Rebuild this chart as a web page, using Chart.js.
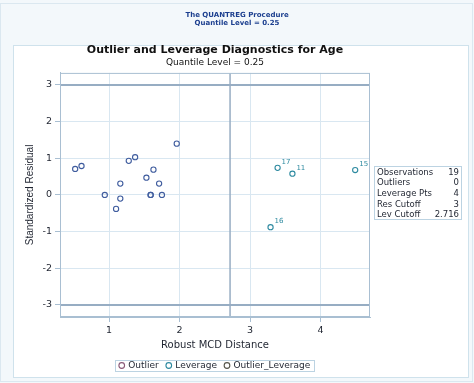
<!DOCTYPE html>
<html>
<head>
<meta charset="utf-8">
<script src="https://cdn.jsdelivr.net/npm/chart.js@4.4.1/dist/chart.umd.min.js"></script>
<style>
  html, body { margin: 0; padding: 0; background: #f3f8fb; }
  #wrap { position: relative; width: 474px; height: 383px; }
</style>
</head>
<body>
<div id="wrap"><canvas id="chart" width="474" height="383"></canvas></div>
<script>
// robust MCD distance / standardized residual
const normalX = [0.52, 0.61, 0.94, 1.10, 1.16, 1.16, 1.28, 1.37, 1.53, 1.63, 1.59, 1.71, 1.75, 1.96, 1.59]
const normalY = [0.71, 0.79, 0.00, -0.38, -0.10, 0.31, 0.93, 1.03, 0.47, 0.69, 0.00, 0.31, 0.00, 1.40, 0.00]
const leverageX = [3.39, 3.60, 4.49, 3.29]
const leverageY = [0.74, 0.58, 0.68, -0.88]
const leverageIds = ['17', '11', '15', '16']
const xTicks = [1, 2, 3, 4]
const yTicks = [-3, -2, -1, 0, 1, 2, 3]
const resCutoff = 3
const levCutoff = 2.716
const statLabels = ['Observations', 'Outliers', 'Leverage Pts', 'Res Cutoff', 'Lev Cutoff']
const statValues = ['19', '0', '4', '3', '2.716']

const toPoints = (xs, ys) => xs.map((x, i) => ({ x, y: ys[i] }))

const font = 'DejaVu Sans'
const gridColor = '#d9e7f1'
const frameColor = '#a9bfd2'
const refColor = '#97adc3'

const sasPlugin = {
  id: 'sas',
  beforeDraw (chart) {
    const { ctx } = chart
    ctx.save()
    ctx.fillStyle = '#f3f8fb'
    ctx.fillRect(0, 0, 474, 383)
    ctx.strokeStyle = '#dbe8f0'
    ctx.lineWidth = 1
    ctx.strokeRect(0.5, 3.5, 472, 378)
    ctx.fillStyle = '#ffffff'
    ctx.fillRect(13, 45, 455, 332)
    ctx.strokeStyle = '#cfe2ec'
    ctx.strokeRect(13.5, 45.5, 455, 332)
    ctx.fillStyle = '#1c3f8f'
    ctx.font = 'bold 7px ' + font
    ctx.textAlign = 'center'
    ctx.textBaseline = 'middle'
    ctx.fillText('The QUANTREG Procedure', 237, 15)
    ctx.fillText('Quantile Level = 0.25', 237, 23.5)
    ctx.restore()
  },
  beforeDatasetsDraw (chart) {
    const { ctx, chartArea: a, scales: { x, y } } = chart
    ctx.save()
    ctx.strokeStyle = refColor
    ctx.lineWidth = 2
    ctx.beginPath()
    for (const v of [resCutoff, -resCutoff]) {
      ctx.moveTo(a.left, y.getPixelForValue(v))
      ctx.lineTo(a.right, y.getPixelForValue(v))
    }
    ctx.stroke()
    ctx.lineWidth = 1.5
    ctx.beginPath()
    ctx.moveTo(x.getPixelForValue(levCutoff), a.top)
    ctx.lineTo(x.getPixelForValue(levCutoff), a.bottom)
    ctx.stroke()
    ctx.strokeStyle = frameColor
    ctx.lineWidth = 1
    ctx.strokeRect(a.left + 0.5, a.top + 0.5, a.right - a.left - 1, a.bottom - a.top - 1)
    ctx.restore()
  },
  afterDraw (chart) {
    const { ctx, chartArea: a, scales: { x, y } } = chart
    ctx.save()
    // point labels
    ctx.fillStyle = '#2e8aa0'
    ctx.font = '7px ' + font
    ctx.textAlign = 'left'
    ctx.textBaseline = 'middle'
    leverageIds.forEach((id, i) => {
      ctx.fillText(id, x.getPixelForValue(leverageX[i]) + 4, y.getPixelForValue(leverageY[i]) - 6)
    })
    // inset statistics
    const bx = a.right + 4
    const by = 166
    ctx.strokeStyle = '#bcd3e2'
    ctx.strokeRect(bx + 0.5, by + 0.5, 87, 53)
    ctx.fillStyle = '#1f2430'
    ctx.font = '8.5px ' + font
    statLabels.forEach((s, i) => {
      const ty = by + 6.5 + i * 10.6
      ctx.textAlign = 'left'
      ctx.fillText(s, bx + 3, ty)
      ctx.textAlign = 'right'
      ctx.fillText(statValues[i], bx + 85, ty)
    })
    // legend frame
    const lg = chart.legend
    if (lg && lg.legendHitBoxes.length) {
      const hb = lg.legendHitBoxes
      const l = Math.min(...hb.map(b => b.left)) - 5
      const r = Math.max(...hb.map(b => b.left + b.width)) + 3
      const t = hb[0].top - 1
      const h = hb[0].height + 2
      ctx.strokeStyle = '#bcd3e2'
      ctx.strokeRect(Math.round(l) + 0.5, Math.round(t) + 0.5, Math.round(r - l), Math.round(h))
    }
    ctx.restore()
  }
}

const marker = (label, data, color) => ({
  label,
  data,
  showLine: false,
  pointStyle: 'circle',
  pointRadius: 2.6,
  pointBorderWidth: 1.1,
  pointBackgroundColor: 'rgba(255,255,255,0)',
  borderColor: color,
  backgroundColor: 'rgba(255,255,255,0)'
})

new Chart(document.getElementById('chart'), { // eslint-disable-line
  type: 'scatter',
  data: {
    datasets: [
      marker('Normal', toPoints(normalX, normalY), '#3f5c9e'),
      marker('Outlier', [], '#8a5a78'),
      marker('Leverage', toPoints(leverageX, leverageY), '#2e8aa0'),
      marker('Outlier_Leverage', [], '#55554a')
    ]
  },
  plugins: [sasPlugin],
  options: {
    responsive: false,
    animation: false,
    events: [],
    layout: { padding: { top: 44, left: 0, right: 104, bottom: 3 } },
    plugins: {
      title: {
        display: true,
        fullSize: false,
        text: 'Outlier and Leverage Diagnostics for Age',
        color: '#111111',
        font: { family: font, size: 11, weight: 'bold', lineHeight: 1.15 },
        padding: 0
      },
      subtitle: {
        display: true,
        fullSize: false,
        text: 'Quantile Level = 0.25',
        color: '#111111',
        font: { family: font, size: 9, lineHeight: 1.25 },
        padding: { top: 0, bottom: 5 }
      },
      legend: {
        position: 'bottom',
        fullSize: false,
        labels: {
          filter: item => item.text !== 'Normal',
          usePointStyle: true,
          pointStyle: 'circle',
          boxWidth: 4,
          boxHeight: 4,
          padding: 8,
          color: '#1f2430',
          font: { family: font, size: 9 }
        }
      },
      tooltip: { enabled: false }
    },
    scales: {
      x: {
        type: 'linear',
        min: 0.305,
        max: 4.70,
        afterBuildTicks: s => { s.ticks = xTicks.map(v => ({ value: v })) },
        afterFit: s => { s.height = 36 },
        grid: { color: gridColor, tickColor: frameColor, tickLength: 5 },
        border: { color: frameColor },
        ticks: { color: '#1f2430', font: { family: font, size: 9.5 }, padding: 3 },
        title: {
          display: true,
          text: 'Robust MCD Distance',
          color: '#1f2430',
          font: { family: font, size: 10 },
          padding: { top: 0, bottom: 2 }
        }
      },
      y: {
        type: 'linear',
        min: -3.33,
        max: 3.33,
        afterBuildTicks: s => { s.ticks = yTicks.map(v => ({ value: v })) },
        afterFit: s => { s.width = 60 },
        grid: { color: gridColor, tickColor: frameColor, tickLength: 5 },
        border: { color: frameColor },
        ticks: { color: '#1f2430', font: { family: font, size: 9.5 }, padding: 3 },
        title: {
          display: true,
          text: 'Standardized Residual',
          color: '#1f2430',
          font: { family: 'Liberation Sans Narrow, Liberation Sans', size: 10 },
          padding: { top: 24, bottom: 0 }
        }
      }
    }
  }
})
</script>
</body>
</html>
